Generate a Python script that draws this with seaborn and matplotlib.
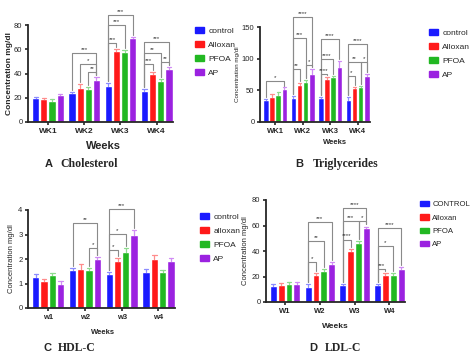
import numpy as np
import pandas as pd
import matplotlib
matplotlib.use('Agg')
import matplotlib.pyplot as plt
from matplotlib.patches import Patch
import seaborn as sns

sns.set_style('ticks')
plt.rcParams['font.family'] = ['Liberation Sans', 'DejaVu Sans']

# 颜色：control / Alloxan / PFOA / AP
colors = ['#1a1aff', '#ff1a1a', '#22b822', '#9b22e0']
err_colors = ['#8c8cff', '#ff8c8c', '#8fdc8f', '#d08cf5']

# A 胆固醇
chol_weeks = ['WK1', 'WK2', 'WK3', 'WK4']
chol_labels = ['control', 'Alloxan', 'PFOA', 'AP']
chol_control = [20, 24, 29.5, 25.4]
chol_alloxan = [19, 28, 58.5, 40]
chol_pfoa = [17.4, 27.5, 57.4, 33.6]
chol_ap = [22, 35, 69, 43.3]
chol_err = [[0.8, 0.8, 3, 2], [1, 3, 1.5, 1.5], [1.2, 1.5, 2, 2], [0.8, 2, 1.5, 2]]

# B 甘油三酯
tg_weeks = ['WK1', 'WK2', 'WK3', 'WK4']
tg_labels = ['control', 'Alloxan', 'PFOA', 'AP']
tg_control = [34, 38, 38, 34]
tg_alloxan = [39.5, 59, 68.4, 54]
tg_pfoa = [43, 63, 71, 55]
tg_ap = [52.6, 76, 87, 72.6]
tg_err = [[2, 3, 2, 6], [4, 3, 3, 2], [5, 3, 2, 2], [2, 8, 10, 3]]

# C HDL-C
hdl_weeks = ['w1', 'w2', 'w3', 'w4']
hdl_labels = ['control', 'alloxan', 'PFOA', 'AP']
hdl_control = [1.27, 1.54, 1.38, 1.45]
hdl_alloxan = [1.1, 1.61, 1.91, 2.0]
hdl_pfoa = [1.34, 1.54, 2.29, 1.45]
hdl_ap = [1.0, 2.02, 3.0, 1.91]
hdl_err = [[0.12, 0.08, 0.1, 0.15], [0.08, 0.2, 0.12, 0.15], [0.08, 0.1, 0.15, 0.1], [0.12, 0.08, 0.2, 0.15]]

# D LDL-C
ldl_weeks = ['W1', 'W2', 'W3', 'W4']
ldl_labels = ['CONTROL', 'Alloxan', 'PFOA', 'AP']
ldl_control = [12.3, 11.8, 13.1, 13.1]
ldl_alloxan = [13.1, 21, 39.9, 21.5]
ldl_pfoa = [13.9, 24.4, 46, 21]
ldl_ap = [13.9, 29.7, 57.7, 26.2]
ldl_err = [[2, 2, 0.8, 1], [1.5, 1.5, 1.5, 1], [2, 1.5, 2, 1.5], [1.5, 2, 1.5, 1.5]]

# 显著性标注：(周序号, 组i, 组j, 高度, 星号)
chol_sig = [(1, 0, 3, 56.5, '***'), (1, 1, 3, 48, '*'), (1, 2, 3, 41, '**'),
            (2, 0, 3, 88, '***'), (2, 0, 2, 80, '***'), (2, 0, 1, 65, '***'),
            (3, 0, 3, 65.7, '***'), (3, 0, 2, 56.5, '**'), (3, 0, 1, 48, '***'), (3, 2, 3, 49.6, '**')]
tg_sig = [(0, 0, 3, 64, '*'),
          (1, 0, 3, 166, '****'), (1, 0, 2, 133, '***'), (1, 0, 1, 84, '**'), (1, 2, 3, 89.5, '*'),
          (2, 0, 3, 131.5, '****'), (2, 0, 2, 100, '****'), (2, 0, 1, 76, '****'),
          (3, 0, 3, 123.7, '****'), (3, 0, 2, 94.7, '**'), (3, 0, 1, 72, '*'), (3, 2, 3, 94.7, '*')]
hdl_sig = [(1, 0, 3, 3.48, '**'), (1, 2, 3, 2.43, '*'),
           (2, 0, 3, 4.03, '***'), (2, 0, 2, 3.02, '*'), (2, 0, 1, 2.36, '*')]
ldl_sig = [(1, 0, 3, 62.4, '***'), (1, 0, 2, 47.7, '**'), (1, 0, 1, 31.5, '*'),
           (2, 0, 3, 73.4, '****'), (2, 0, 2, 63.5, '***'), (2, 2, 3, 63.5, '*'), (2, 0, 1, 49, '****'),
           (3, 0, 3, 58.2, '****'), (3, 0, 2, 44, '*'), (3, 0, 1, 26.2, '***')]

W, H = 474, 361
fig = plt.figure(figsize=(W / 100, H / 100), dpi=100)


def rect(l, t, r, b):
    # 像素坐标 -> 图坐标
    return [l / W, 1 - b / H, (r - l) / W, (b - t) / H]


def draw_panel(box, weeks, labels, series, errs, sig, ymax, yticks, tick_fs, ylab_fs, ylab_bold, ylab_x,
               leg_xy, leg_fs=6):
    ax = fig.add_axes(rect(*box))
    df = pd.DataFrame({
        'week': np.tile(weeks, 4),
        'group': np.repeat(labels, 4),
        'value': np.concatenate(series),
    })
    sns.barplot(data=df, x='week', y='value', hue='group', palette=colors, width=0.9, gap=0.12,
                saturation=1, errorbar=None, legend=False, ax=ax)
    # 误差线（只画上半部分）
    tops = {}
    for k, cont in enumerate(ax.containers):
        for w, bar in enumerate(cont):
            xc = bar.get_x() + bar.get_width() / 2
            h = bar.get_height()
            e = errs[k][w]
            ax.plot([xc, xc], [h, h + e], color=err_colors[k], lw=0.9, zorder=1)
            ax.plot([xc - bar.get_width() * 0.3, xc + bar.get_width() * 0.3], [h + e, h + e],
                    color=err_colors[k], lw=0.9, zorder=1)
            tops[(w, k)] = (xc, h + e)
    # 显著性括号
    for w, i, j, y, s in sig:
        x1, t1 = tops[(w, i)]
        x2, t2 = tops[(w, j)]
        g = ymax * 0.02
        ax.plot([x1, x1, x2, x2], [t1 + g, y, y, t2 + g], color='#8a8a8a', lw=0.8, clip_on=False)
        ax.text((x1 + x2) / 2, y + ymax * 0.01, s, ha='center', va='bottom', fontsize=4.5,
                color='#333333', clip_on=False)
    ax.set_xlim(-0.55, 3.45)
    ax.set_ylim(0, ymax)
    ax.set_yticks(yticks)
    ax.set_xlabel('')
    ax.set_ylabel('Concentration mg/dl', fontsize=ylab_fs, fontweight='bold' if ylab_bold else 'normal')
    ax.yaxis.set_label_coords(ylab_x, 0.5)
    ax.tick_params(axis='x', labelsize=tick_fs, length=2.5, width=1.2, pad=1.5)
    ax.tick_params(axis='y', labelsize=5.5, length=2.5, width=1.2, pad=1.5)
    for t in ax.get_xticklabels():
        t.set_fontweight('bold')
    for sp in ['left', 'bottom']:
        ax.spines[sp].set_linewidth(1.3)
    sns.despine(ax=ax)
    handles = [Patch(facecolor=c, edgecolor=c) for c in colors]
    ax.legend(handles, labels, loc='upper left', bbox_to_anchor=(leg_xy[0] / W, 1 - leg_xy[1] / H),
              bbox_transform=fig.transFigure, frameon=False, fontsize=leg_fs, handlelength=1.1,
              handleheight=0.7, handletextpad=0.5, labelspacing=0.75, borderaxespad=0, borderpad=0)
    return ax


draw_panel((28, 25, 173, 122), chol_weeks, chol_labels,
           [chol_control, chol_alloxan, chol_pfoa, chol_ap], chol_err, chol_sig,
           80, [0, 20, 40, 60, 80], 6, 6, True, -0.10, (195, 27))
draw_panel((260, 27, 370, 122), tg_weeks, tg_labels,
           [tg_control, tg_alloxan, tg_pfoa, tg_ap], tg_err, tg_sig,
           150, [0, 50, 100, 150], 5.5, 4.5, False, -0.18, (429, 29))
draw_panel((28, 210, 175, 308), hdl_weeks, hdl_labels,
           [hdl_control, hdl_alloxan, hdl_pfoa, hdl_ap], hdl_err, hdl_sig,
           4, [0, 1, 2, 3, 4], 5.5, 5.5, False, -0.09, (200, 213))
draw_panel((266, 200, 405, 302), ldl_weeks, ldl_labels,
           [ldl_control, ldl_alloxan, ldl_pfoa, ldl_ap], ldl_err, ldl_sig,
           80, [0, 20, 40, 60, 80], 5.5, 5.5, False, -0.12, (420, 201), leg_fs=5.6)

# 坐标轴名称 Weeks
fig.text(103 / W, 1 - 146 / H, 'Weeks', ha='center', va='center', fontsize=8, fontweight='bold')
fig.text(335 / W, 1 - 143 / H, 'Weeks', ha='center', va='center', fontsize=5.5, fontweight='bold')
fig.text(103 / W, 1 - 332 / H, 'Weeks', ha='center', va='center', fontsize=5.5, fontweight='bold')
fig.text(335 / W, 1 - 326 / H, 'Weeks', ha='center', va='center', fontsize=6, fontweight='bold')

# 子图标题
serif = ['Liberation Serif', 'DejaVu Serif']
for letter, lx, name, nx, y in [('A', 45, 'Cholesterol', 60, 164), ('B', 295, 'Triglycerides', 313, 164),
                                ('C', 43, 'HDL-C', 58, 348), ('D', 309, 'LDL-C', 325, 348)]:
    fig.text(lx / W, 1 - y / H, letter, ha='left', va='center', fontsize=8, fontweight='bold')
    fig.text(nx / W, 1 - y / H, name, ha='left', va='center', fontsize=8.5, fontweight='bold',
             family=serif)

fig.savefig('out.png', dpi=100)
